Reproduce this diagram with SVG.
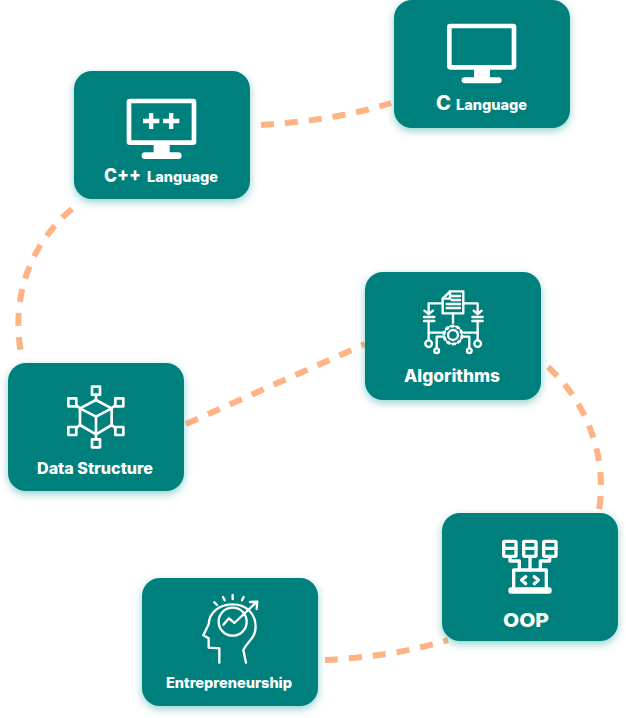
<svg xmlns="http://www.w3.org/2000/svg" width="626" height="718" viewBox="0 0 626 718">
<defs>
<filter id="glow" x="-15%" y="-15%" width="130%" height="135%"><feDropShadow dx="0" dy="3" stdDeviation="4" flood-color="#0a8f8b" flood-opacity="0.42"/></filter>
</defs>
<style>
.card{fill:#04807c;filter:url(#glow)}
.lbl{font-family:"Inter","Liberation Sans",sans-serif;font-weight:800;fill:#fff}
.ico{fill:none;stroke:#fff;stroke-linejoin:round;stroke-linecap:round}
.plus{fill:none;stroke:#fff;stroke-width:13}
.solid{fill:#fff;stroke:none}
.dash{fill:none;stroke:#ffb283;stroke-width:6;stroke-dasharray:13 11}
</style>
<rect width="626" height="718" fill="#fff"/>
<g id="connectors">
<path class="dash" d="M261 125C305 122 350 116 391 103"/>
<path class="dash" d="M72 209C35 240 10 290 21 353"/>
<path class="dash" d="M186 424L365 344"/>
<path class="dash" d="M548 367C585 400 608 455 599 510"/>
<path class="dash" d="M325 660C365 658 410 652 448 640"/>
</g>
<g id="node-c">
<rect class="card" x="394" y="0" width="176" height="128" rx="18"/>
<g transform="translate(385 0) scale(.3333)">
<rect class="ico" x="193" y="78" width="194" height="124" rx="3" stroke-width="14"/>
<rect class="solid" x="267" y="205" width="48" height="30"/>
<rect class="solid" x="230" y="232" width="120" height="18" rx="9"/>
</g>
<text class="lbl" x="436" y="110" font-size="20" textLength="15" lengthAdjust="spacingAndGlyphs">C</text>
<text class="lbl" x="456" y="110" font-size="14" textLength="71" lengthAdjust="spacingAndGlyphs">Language</text>
</g>
<g id="node-cpp">
<rect class="card" x="74" y="71" width="176" height="128" rx="18"/>
<g transform="translate(60 60) scale(.3333)">
<rect class="ico" x="207" y="123" width="195" height="125" rx="3" stroke-width="14"/>
<rect class="solid" x="281" y="250" width="48" height="30"/>
<rect class="solid" x="245" y="277" width="120" height="20" rx="10"/>
<path class="plus" d="M249 183H298M273.500 159V207M309 183H358M333.500 159V207"/>
</g>
<text class="lbl" x="104" y="182" font-size="19" textLength="37" lengthAdjust="spacingAndGlyphs">C++</text>
<text class="lbl" x="147" y="182" font-size="14" textLength="71" lengthAdjust="spacingAndGlyphs">Language</text>
</g>
<g id="node-algorithms">
<rect class="card" x="365" y="272" width="176" height="128" rx="18"/>
<g transform="translate(400 280) scale(.3333)">
<g class="ico" stroke-width="7">
<path d="M150 34H190V100H128V56Z"/>
<path d="M150 34V56H128"/>
<path d="M155 48H180M155 60H180M140 72H180M140 84H180"/>
<path d="M128 70H86V98M190 70H233V98"/>
<path d="M73 92L86 102L99 92"/>
<path d="M221 92L233 102L245 92"/>
<path d="M72 111H103M72 123H103M217 111H248M217 123H248"/>
<path d="M86 123V180M233 123V180"/>
<path d="M159 100V128"/>
<path d="M86 158H128M233 158H192"/>
<path d="M110 170V205M208 170V205M110 170H128M208 170H190"/>
<circle cx="86" cy="191" r="10"/>
<circle cx="233" cy="191" r="10"/>
<circle cx="110" cy="212" r="7"/>
<circle cx="208" cy="212" r="7"/>
<circle cx="159" cy="165" r="15"/>
<circle cx="159" cy="165" r="27" stroke-dasharray="11 6" stroke-width="9" stroke-linecap="butt"/>
<circle cx="159" cy="165" r="27" stroke-width="4"/>
</g>
</g>
<text class="lbl" x="404" y="382" font-size="17" textLength="96" lengthAdjust="spacingAndGlyphs">Algorithms</text>
</g>
<g id="node-data-structure">
<rect class="card" x="8" y="363" width="176" height="128" rx="18"/>
<g transform="translate(50 375) scale(.3333)">
<g class="ico" stroke-width="8">
<path d="M138 75L185 100V150L138 178L90 150V100Z"/>
<path d="M90 100L138 125L185 100M138 125V178"/>
<path d="M138 60V75M195 92L185 100M195 158L185 150M138 192V178M80 92L90 100M80 158L90 150"/>
<rect x="126" y="35" width="24" height="24"/>
<rect x="196" y="70" width="24" height="24"/>
<rect x="196" y="156" width="24" height="24"/>
<rect x="126" y="193" width="24" height="24"/>
<rect x="55" y="156" width="24" height="24"/>
<rect x="55" y="70" width="24" height="24"/>
</g>
</g>
<text class="lbl" x="37" y="474" font-size="15.500" textLength="116" lengthAdjust="spacingAndGlyphs">Data Structure</text>
</g>
<g id="node-oop">
<rect class="card" x="442" y="513" width="176" height="128" rx="18"/>
<g transform="translate(480 525) scale(.3333)">
<g class="ico" stroke-width="10">
<rect x="71" y="49" width="37" height="45" rx="3"/>
<rect x="131" y="49" width="37" height="45" rx="3"/>
<rect x="191" y="49" width="37" height="45" rx="3"/>
<path d="M71 70H108M131 70H168M191 70H228"/>
<path d="M90 94V108H118V135M150 94V135M209 94V108H181V135"/>
<path d="M101 190V135H199V190"/>
<path d="M137 155L125 165L137 176M163 155L175 165L163 176"/>
</g>
<rect class="solid" x="85" y="187" width="130" height="19" rx="8"/>
</g>
<text class="lbl" x="503" y="627" font-size="19" textLength="46" lengthAdjust="spacingAndGlyphs">OOP</text>
</g>
<g id="node-entrepreneurship">
<rect class="card" x="142" y="578" width="176" height="128" rx="18"/>
<g transform="translate(160 585) scale(.3333)">
<g class="ico" stroke-width="7">
<path d="M178 233V190L146 188V160L130 151L146 118C148 80 180 58 218 58C258 58 287 85 287 125C287 160 262 170 250 195L258 233"/>
<circle cx="218" cy="110" r="42"/>
<path d="M190 119L207 100L223 114L290 51"/>
<path d="M270 51L292 50L290 72"/>
<path d="M163 52L171 60M189 36L194 46M218 30V42M251 36L246 46"/>
</g>
</g>
<text class="lbl" x="166" y="688" font-size="14" textLength="126" lengthAdjust="spacingAndGlyphs">Entrepreneurship</text>
</g>
</svg>
